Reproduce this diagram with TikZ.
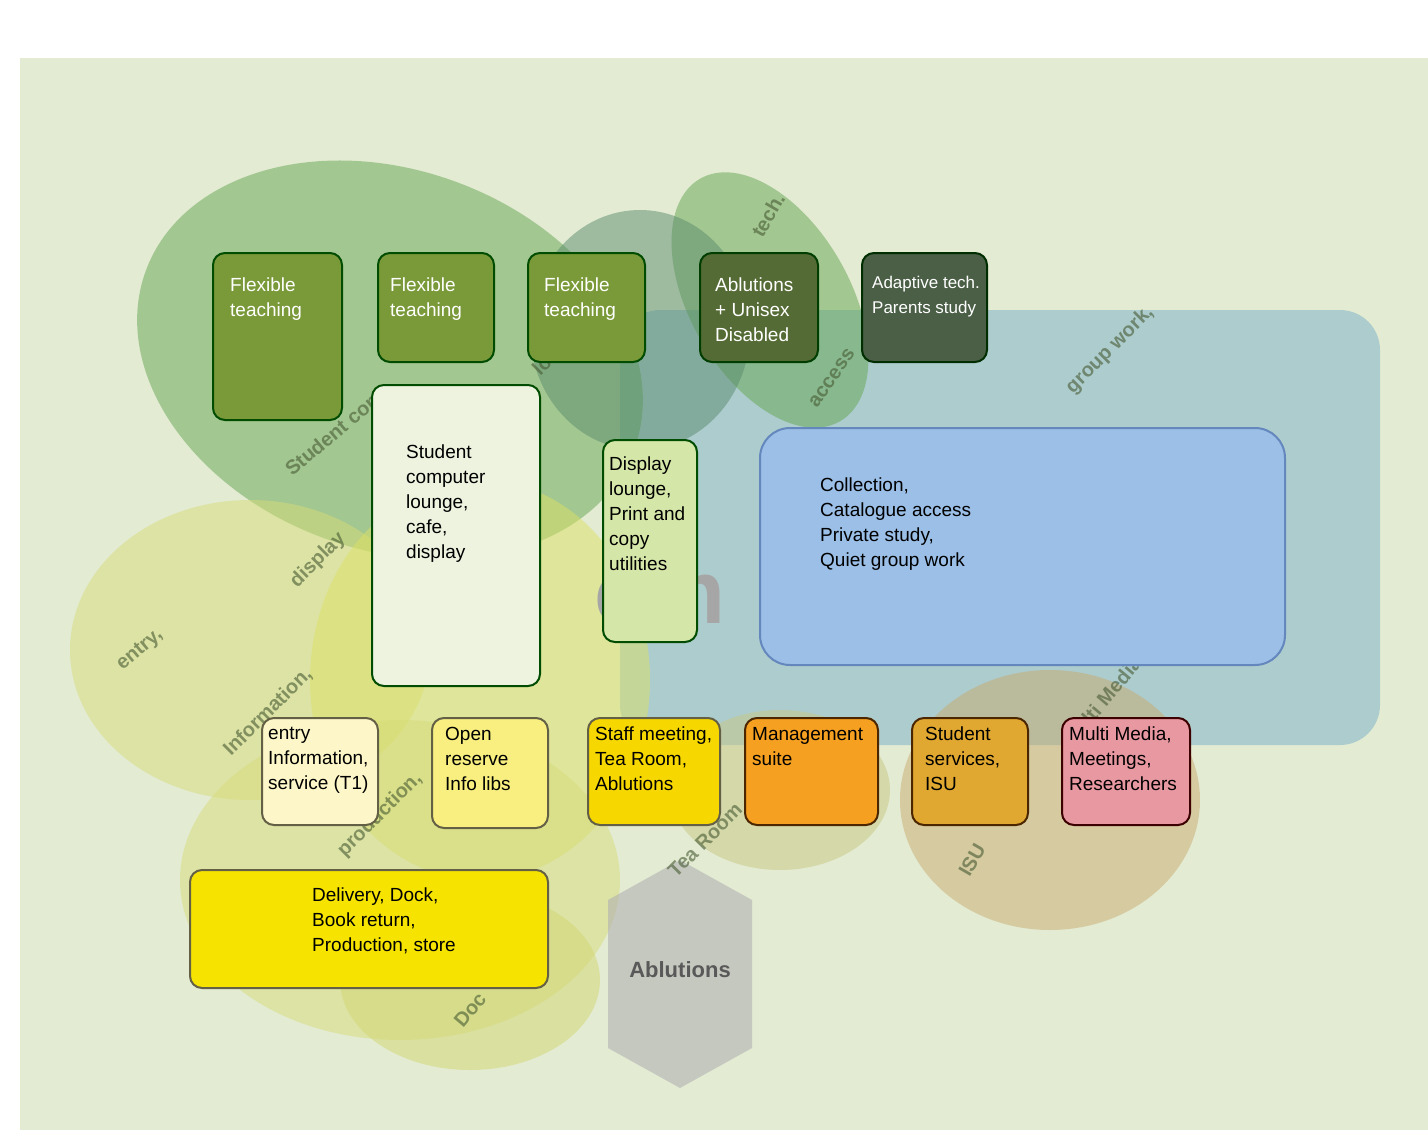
\documentclass[tikz,border=0pt]{standalone}
\usepackage{fontspec}
\setmainfont{Liberation Sans}
\usetikzlibrary{shapes.geometric}
\definecolor{bg}{RGB}{227,235,211}
\definecolor{cblue}{RGB}{120,175,200}
\definecolor{cgreenb}{RGB}{100,165,80}
\definecolor{cteal}{RGB}{90,140,110}
\definecolor{cy1}{RGB}{215,220,120}
\definecolor{cy2}{RGB}{220,225,100}
\definecolor{cy3}{RGB}{210,215,110}
\definecolor{cbr}{RGB}{200,170,110}
\definecolor{cy4}{RGB}{200,200,130}
\definecolor{fgreen}{RGB}{122,154,58}
\definecolor{fdgreen}{RGB}{85,107,53}
\definecolor{fddgreen}{RGB}{74,95,70}
\definecolor{fpale}{RGB}{238,243,224}
\definecolor{flight}{RGB}{212,230,168}
\definecolor{bluebox}{RGB}{155,191,230}
\definecolor{blueline}{RGB}{100,135,190}
\definecolor{fcream}{RGB}{253,246,200}
\definecolor{fpy}{RGB}{248,239,128}
\definecolor{fyel}{RGB}{246,216,0}
\definecolor{forange}{RGB}{245,160,32}
\definecolor{fochre}{RGB}{224,168,48}
\definecolor{fpink}{RGB}{232,152,160}
\definecolor{fyel2}{RGB}{246,228,0}
\definecolor{wordc}{RGB}{70,90,50}
\begin{document}
\begin{tikzpicture}[x=1pt,y=-1pt,
  box/.style={draw=#1!60!black,line width=2pt,rounded corners=12pt},
  lbl/.style={anchor=north west,align=left,font=\fontsize{19}{25}\selectfont,inner sep=0pt},
  faint/.style={font=\bfseries\fontsize{20}{24}\selectfont,text=wordc,opacity=0.6}]
\useasboundingbox (0,0) rectangle (1428,1130);
\fill[white] (0,0) rectangle (1428,1130);
\fill[bg] (20,58) rectangle (1428,1130);
% background blobs
\begin{scope}[opacity=0.5]
\fill[cblue,rounded corners=40pt] (620,310) rectangle (1380,745);
\fill[cgreenb] (390,360) ellipse [x radius=260, y radius=190, rotate=-20];
\fill[cgreenb] (770,300) ellipse [x radius=80, y radius=140, rotate=30];
\fill[cteal] (640,330) ellipse [x radius=110, y radius=120];
\fill[cy1] (250,650) ellipse [x radius=180, y radius=150];
\fill[cy2] (480,680) ellipse [x radius=170, y radius=200];
\fill[cy1] (400,880) ellipse [x radius=220, y radius=160];
\fill[cy3] (470,980) ellipse [x radius=130, y radius=90];
\fill[cbr] (1050,800) ellipse [x radius=150, y radius=130];
\fill[cy4] (780,790) ellipse [x radius=110, y radius=80];
\end{scope}
\coordinate (h1) at (680,860);
\coordinate (h2) at (752,900);
\coordinate (h3) at (752,1048);
\coordinate (h4) at (680,1088);
\coordinate (h5) at (608,1048);
\coordinate (h6) at (608,900);
\fill[gray!60,opacity=0.6] (h1) -- (h2) -- (h3) -- (h4) -- (h5) -- (h6) -- cycle;
\node[font=\bfseries\fontsize{22}{26}\selectfont,text=gray!70!black] (abl) at (680,970) {Ablutions};
\node[font=\bfseries\fontsize{90}{90}\selectfont,text=gray!70] (com) at (660,600) {cm};
% faint rotated words
\node[faint,rotate=40] (w1) at (140,650) {entry,};
\node[faint,rotate=45] (w2) at (318,560) {display};
\node[faint,rotate=40] (w3) at (340,430) {Student comp};
\node[faint,rotate=45] (w4) at (268,712) {Information,};
\node[faint,rotate=55] (w5) at (832,378) {access};
\node[faint,rotate=45] (w6) at (1110,350) {group work,};
\node[faint,rotate=60] (w7) at (768,215) {tech.};
\node[faint,rotate=50] (w8) at (1105,700) {Multi Media,};
\node[faint,rotate=60] (w9) at (972,860) {ISU};
\node[faint,rotate=45] (w10) at (705,840) {Tea Room};
\node[faint,rotate=50] (w11) at (470,1010) {Doc};
\node[faint,rotate=45] (w12) at (560,350) {lounge};
\node[faint,rotate=45] (w13) at (380,815) {production,};
% boxes
\draw[box=green!50!black,fill=fgreen] (213,253) rectangle (342,420);
\node[lbl,text=white] (ft1) at (230,278) {Flexible\\teaching};
\draw[box=green!50!black,fill=fgreen] (378,253) rectangle (494,362);
\node[lbl,text=white] (ft2) at (390,278) {Flexible\\teaching};
\draw[box=green!50!black,fill=fgreen] (528,253) rectangle (645,362);
\node[lbl,text=white] (ft3) at (544,278) {Flexible\\teaching};
\draw[box=green!40!black,fill=fdgreen] (700,253) rectangle (818,362);
\node[lbl,text=white] (ab) at (715,278) {Ablutions\\+ Unisex\\Disabled};
\draw[box=green!30!black,fill=fddgreen] (862,253) rectangle (987,362);
\node[lbl,text=white,font=\fontsize{17}{25}\selectfont] (ad) at (872,276) {Adaptive tech.\\Parents study};
\draw[box=green!50!black,fill=fpale] (372,385) rectangle (540,686);
\node[lbl] (sc) at (406,445) {Student\\computer\\lounge,\\cafe,\\display};
\draw[box=green!50!black,fill=flight] (603,440) rectangle (697,642);
\node[lbl] (dl) at (609,457) {Display\\lounge,\\Print and\\copy\\utilities};
\draw[draw=blueline,line width=2pt,rounded corners=30pt,fill=bluebox] (760,428) rectangle (1285,665);
\node[lbl] (col) at (820,478) {Collection,\\Catalogue access\\Private study,\\Quiet group work};
\draw[box=yellow!50!black,fill=fcream] (262,718) rectangle (378,825);
\node[lbl] (en) at (268,727) {entry\\Information,\\service (T1)};
\draw[box=yellow!50!black,fill=fpy] (432,718) rectangle (548,828);
\node[lbl] (or) at (445,727) {Open\\reserve\\Info libs};
\draw[box=yellow!50!black,fill=fyel] (588,718) rectangle (720,825);
\node[lbl] (sm) at (595,727) {Staff meeting,\\Tea Room,\\Ablutions};
\draw[box=orange!50!black,fill=forange] (745,718) rectangle (878,825);
\node[lbl] (ms) at (752,727) {Management\\suite};
\draw[box=orange!50!black,fill=fochre] (912,718) rectangle (1028,825);
\node[lbl] (ss) at (925,727) {Student\\services,\\ISU};
\draw[box=red!40!black,fill=fpink] (1062,718) rectangle (1190,825);
\node[lbl] (mm) at (1069,727) {Multi Media,\\Meetings,\\Researchers};
\draw[box=yellow!50!black,fill=fyel2] (190,870) rectangle (548,988);
\node[lbl] (dd) at (312,888) {Delivery, Dock,\\Book return,\\Production, store};
\end{tikzpicture}
\end{document}
